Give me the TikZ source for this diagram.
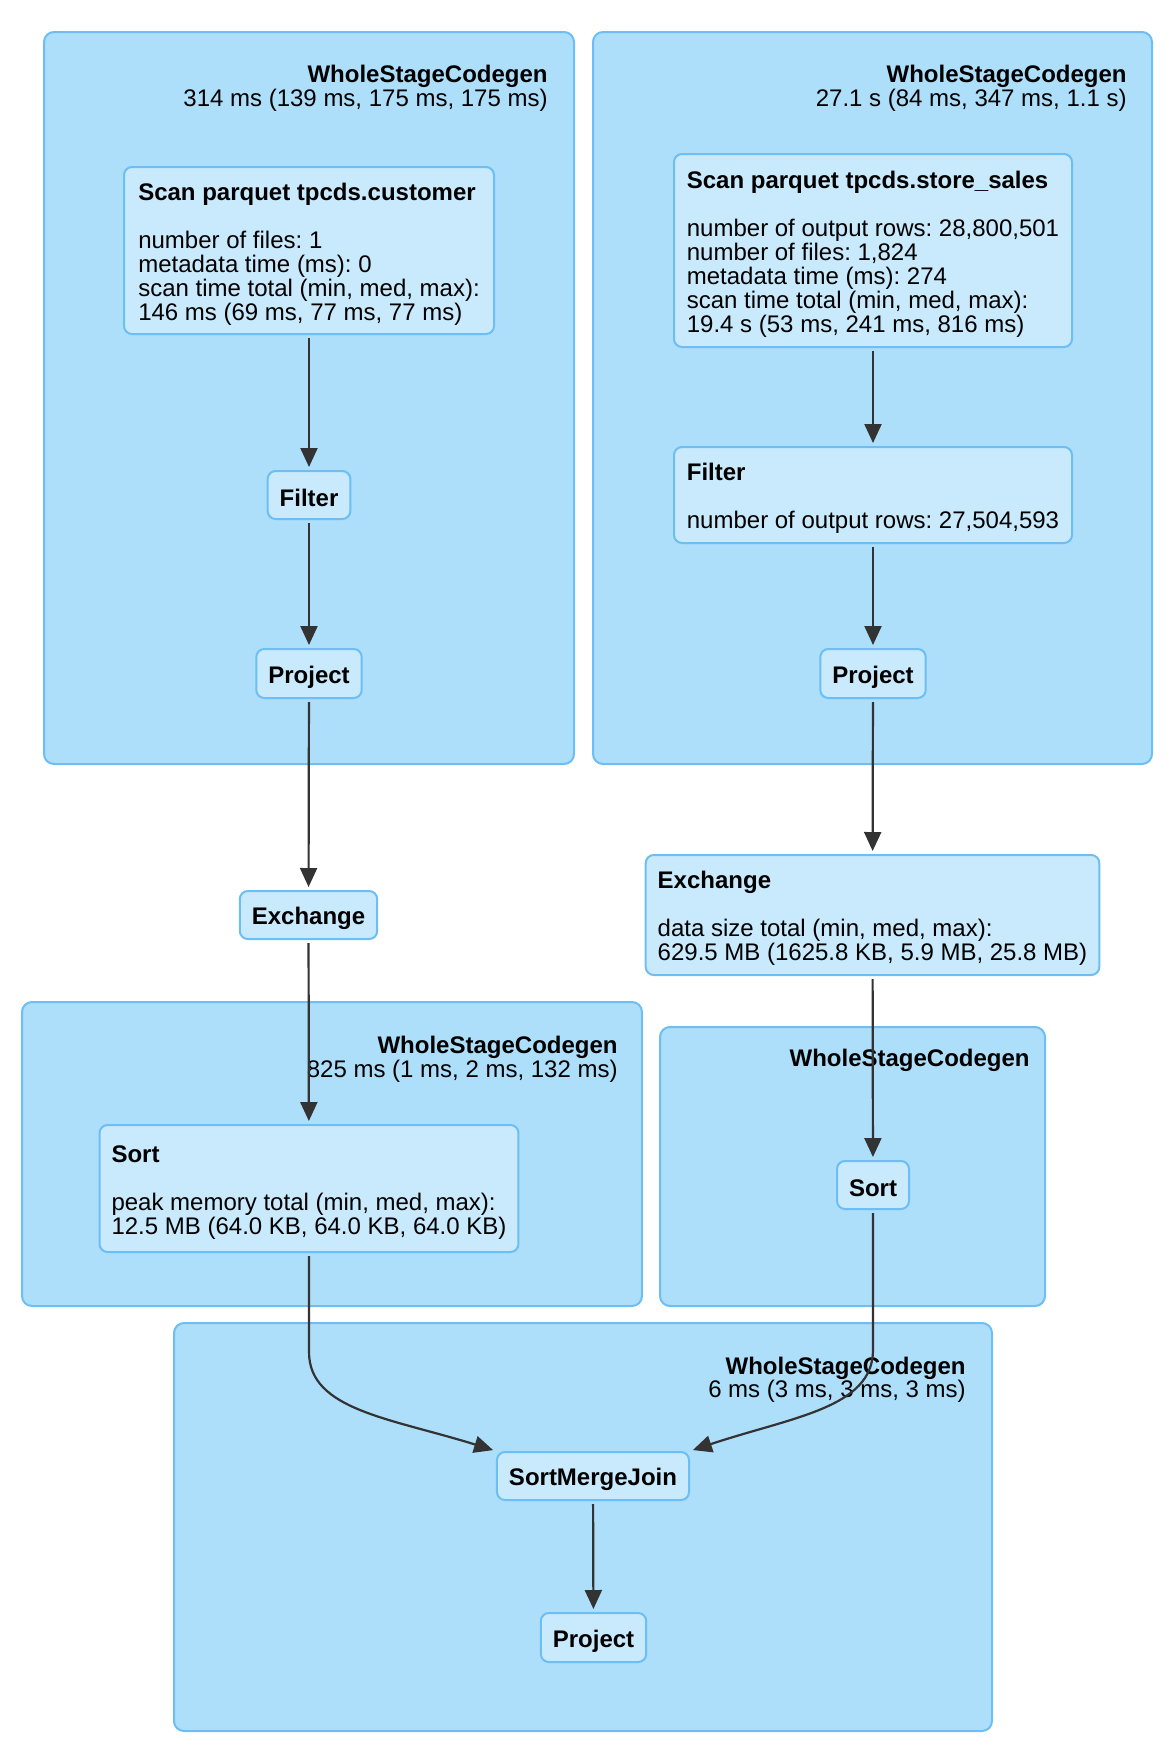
\documentclass[tikz,border=0pt]{standalone}
\usepackage{fontspec}
\setmainfont{Liberation Sans}
\usetikzlibrary{arrows.meta}
\frenchspacing

\definecolor{wscfill}{RGB}{173,222,250}
\definecolor{wscline}{RGB}{108,190,245}
\definecolor{opfill}{RGB}{200,234,252}
\definecolor{edgegray}{RGB}{51,51,51}

% 首行高度
\newcommand{\optop}{\rule{0pt}{12pt}}

\tikzset{
  wsc/.style={draw=wscline, fill=wscfill, line width=1pt, rounded corners=5pt, inner sep=0pt},
  op/.style={draw=wscline, fill=opfill, line width=1pt, rounded corners=4pt, align=left,
    inner xsep=6pt, font=\fontsize{12pt}{12pt}\selectfont},
  wsclabel/.style={anchor=base east, inner sep=0pt, font=\fontsize{12pt}{12pt}\selectfont},
  edge/.style={-{Triangle[length=9.5pt,width=8.5pt]}, draw=edgegray, line width=1.1pt,
    shorten >=1.5pt, shorten <=1.5pt}
}

\begin{document}
\begin{tikzpicture}[x=0.5pt, y=-0.5pt]
    \useasboundingbox (0,0) rectangle (1172,1762);

    % 代码生成阶段
    \node[wsc, minimum width=265pt, minimum height=366pt] (wscA) at (309,398) {};
    \node[wsc, minimum width=279.5pt, minimum height=366pt] (wscB) at (872.5,398) {};
    \node[wsc, minimum width=310pt, minimum height=152pt] (wscC) at (332,1154) {};
    \node[wsc, minimum width=192.5pt, minimum height=139.5pt] (wscD) at (852.5,1166.5) {};
    \node[wsc, minimum width=409pt, minimum height=204pt] (wscE) at (583,1527) {};

    \node[wsclabel] (wscAname) at (548,82) {\textbf{WholeStageCodegen}};
    \node[wsclabel] (wscAtime) at (548,106) {314 ms (139 ms, 175 ms, 175 ms)};
    \node[wsclabel] (wscBname) at (1127,82) {\textbf{WholeStageCodegen}};
    \node[wsclabel] (wscBtime) at (1127,106) {27.1 s (84 ms, 347 ms, 1.1 s)};
    \node[wsclabel] (wscCname) at (618,1053) {\textbf{WholeStageCodegen}};
    \node[wsclabel] (wscCtime) at (618,1077) {825 ms (1 ms, 2 ms, 132 ms)};
    \node[wsclabel] (wscDname) at (1030,1066) {\textbf{WholeStageCodegen}};
    \node[wsclabel] (wscEname) at (966,1374) {\textbf{WholeStageCodegen}};
    \node[wsclabel] (wscEtime) at (966,1397) {6 ms (3 ms, 3 ms, 3 ms)};

    % customer 一侧
    \node[op, minimum width=185pt, minimum height=83.5pt] (scanC) at (309,250.5)
        {\optop\textbf{Scan parquet tpcds.customer}\\[12pt]number of files: 1\\metadata time (ms): 0\\scan time total (min, med, max):\\146 ms (69 ms, 77 ms, 77 ms)};
    \node[op, minimum width=39pt, minimum height=24pt] (filterC) at (309,495) {\optop\textbf{Filter}};
    \node[op, minimum width=51pt, minimum height=24.5pt] (projC) at (309,673.5) {\optop\textbf{Project}};
    \node[op, minimum width=66.5pt, minimum height=24pt] (exchC) at (308.5,915) {\optop\textbf{Exchange}};
    \node[op, minimum width=207pt, minimum height=63.5pt] (sortC) at (309,1188.5)
        {\optop\textbf{Sort}\\[12pt]peak memory total (min, med, max):\\12.5 MB (64.0 KB, 64.0 KB, 64.0 KB)};

    % store_sales 一侧
    \node[op, minimum width=199pt, minimum height=96.5pt] (scanS) at (873,250.5)
        {\optop\textbf{Scan parquet tpcds.store\_sales}\\[12pt]number of output rows: 28,800,501\\number of files: 1,824\\metadata time (ms): 274\\scan time total (min, med, max):\\19.4 s (53 ms, 241 ms, 816 ms)};
    \node[op, minimum width=199pt, minimum height=48pt] (filterS) at (873,495)
        {\optop\textbf{Filter}\\[12pt]number of output rows: 27,504,593};
    \node[op, minimum width=51pt, minimum height=24.5pt] (projS) at (873,673.5) {\optop\textbf{Project}};
    \node[op, minimum width=225.5pt, minimum height=60pt] (exchS) at (872.5,915)
        {\optop\textbf{Exchange}\\[12pt]data size total (min, med, max):\\629.5 MB (1625.8 KB, 5.9 MB, 25.8 MB)};
    \node[op, minimum width=34pt, minimum height=24pt] (sortS) at (873,1185) {\optop\textbf{Sort}};

    % 连接
    \node[op, minimum width=95pt, minimum height=24pt] (smj) at (593,1476) {\optop\textbf{SortMergeJoin}};
    \node[op, minimum width=51.5pt, minimum height=24.5pt] (projJ) at (593.5,1637.5) {\optop\textbf{Project}};

    \coordinate (bendC) at (309,1352);
    \coordinate (bendS) at (873,1350);

    \draw[edge] (scanC) -- (filterC);
    \draw[edge] (filterC) -- (projC);
    \draw[edge] (projC) -- (exchC);
    \draw[edge] (exchC) -- (sortC);

    \draw[edge] (scanS) -- (filterS);
    \draw[edge] (filterS) -- (projS);
    \draw[edge] (projS) -- (exchS);
    \draw[edge] (exchS) -- (sortS);

    \draw[edge] (sortC) -- (bendC) .. controls (309,1410) and (390,1418) .. (smj.north west);
    \draw[edge] (sortS) -- (bendS) .. controls (873,1408) and (792,1417) .. (smj.north east);
    \draw[edge] (smj) -- (projJ);
\end{tikzpicture}
\end{document}
